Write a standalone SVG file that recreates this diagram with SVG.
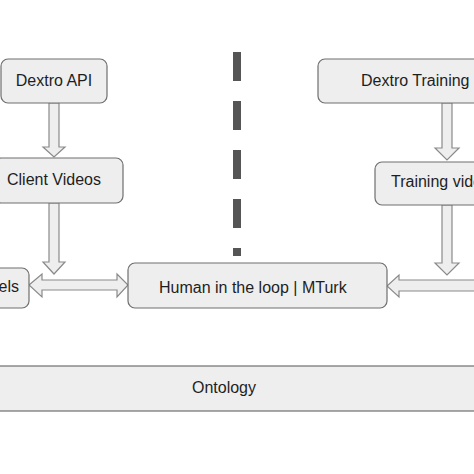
<svg xmlns="http://www.w3.org/2000/svg" width="474" height="474" viewBox="0 0 474 474">
<style>
.box{fill:#eeeeee;stroke:#6f6f6f;stroke-width:1.2}
.arr{fill:#eeeeee;stroke:#8a8a8a;stroke-width:1.2;stroke-linejoin:miter}
.t{font-family:"Liberation Sans",Arial,sans-serif;font-size:16px;fill:#1e1e1e}
</style>
<rect width="474" height="474" fill="#ffffff"/>
<g id="divider">
<line x1="237" y1="52" x2="237" y2="256" stroke="#555555" stroke-width="8" stroke-dasharray="29 20"/>
</g>
<g id="connectors">
<path class="arr" d="M49,103 V147 H43 L54,157 L65,147 H59 V103 Z"/>
<path class="arr" d="M49,203 V262 H43 L54,274 L65,262 H59 V203 Z"/>
<path class="arr" d="M29,285 L42,274 V280 H117 V274 L128,285 L117,297 V290 H42 V297 Z"/>
<path class="arr" d="M442,103 V148 H435 L447,160 L459,148 H452 V103 Z"/>
<path class="arr" d="M442,205 V263 H435 L447,275 L459,263 H452 V205 Z"/>
<path class="arr" d="M387,286 L399,275 V280 H480 V291 H399 V297 Z"/>
</g>
<g id="dextro-api">
<rect class="box" x="1" y="59" width="106" height="44" rx="7"/>
<text class="t" x="54" y="86" text-anchor="middle">Dextro API</text>
</g>
<g id="client-videos">
<rect class="box" x="-6" y="158" width="129" height="45" rx="7"/>
<text class="t" x="54" y="185" text-anchor="middle">Client Videos</text>
</g>
<g id="models">
<rect class="box" x="-40" y="268" width="69" height="40" rx="7"/>
<text class="t" x="19" y="292" text-anchor="end">Models</text>
</g>
<g id="human-loop">
<rect class="box" x="128" y="263" width="259" height="45" rx="7"/>
<text class="t" x="159" y="293">Human in the loop | MTurk</text>
</g>
<g id="dextro-training">
<rect class="box" x="318" y="59" width="180" height="44" rx="7"/>
<text class="t" x="361" y="86">Dextro Training</text>
</g>
<g id="training-videos">
<rect class="box" x="375" y="162" width="130" height="43" rx="7"/>
<text class="t" x="391" y="187">Training videos</text>
</g>
<g id="ontology">
<rect class="box" x="-5" y="366" width="484" height="45"/>
<text class="t" x="224" y="393" text-anchor="middle">Ontology</text>
</g>
</svg>
